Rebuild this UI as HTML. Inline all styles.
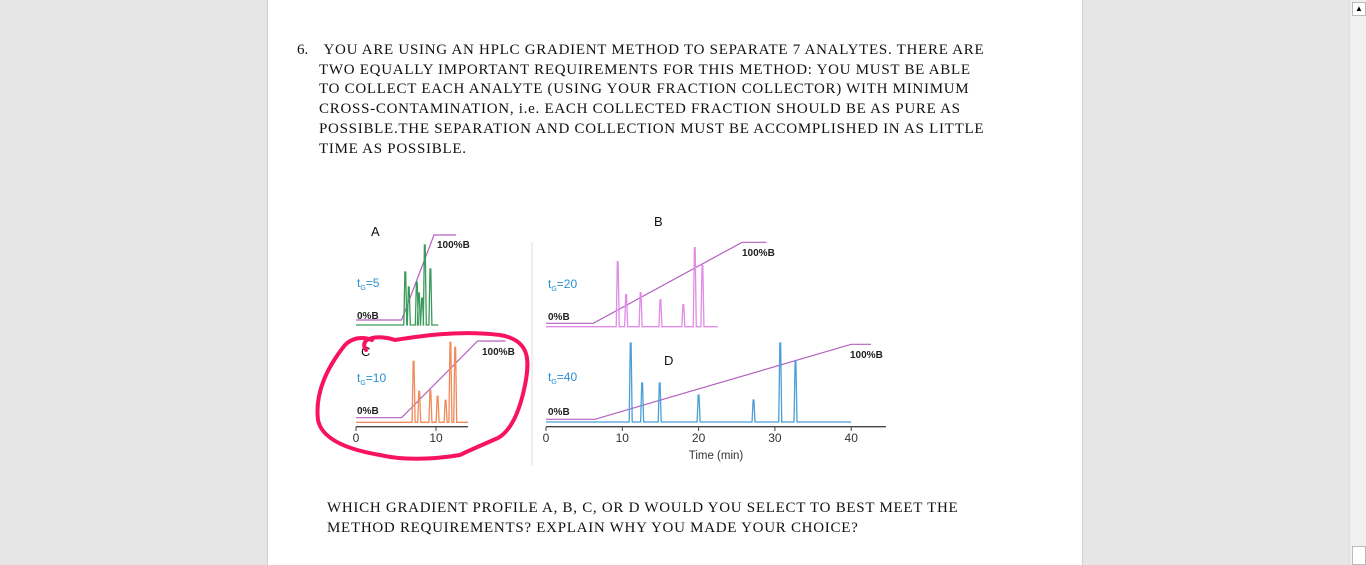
<!DOCTYPE html>
<html><head><meta charset="utf-8">
<style>
body{margin:0;width:1366px;height:565px;background:#e6e6e6;overflow:hidden;position:relative;font-family:"Liberation Serif",serif}
#page{position:absolute;left:267px;top:0;width:814px;height:565px;background:#fff;border-left:1px solid #d0d0d0;border-right:1px solid #d0d0d0}
.q{position:absolute;font-size:15px;line-height:19.7px;color:#111;letter-spacing:0.72px;white-space:nowrap}
#sb{position:absolute;left:1349px;top:0;width:17px;height:565px;background:#f0f0f0;border-left:1px solid #ddd}
svg text{font-family:"Liberation Sans",sans-serif}
</style></head><body>
<div id="page"></div>
<div class="q" style="left:297px;top:41px;letter-spacing:0">6.</div>
<div class="q" style="left:319px;top:41px">&nbsp;YOU ARE USING AN HPLC GRADIENT METHOD TO SEPARATE 7 ANALYTES. THERE ARE<br>TWO EQUALLY IMPORTANT REQUIREMENTS FOR THIS METHOD: YOU MUST BE ABLE<br>TO COLLECT EACH ANALYTE (USING YOUR FRACTION COLLECTOR) WITH MINIMUM<br>CROSS-CONTAMINATION, i.e. EACH COLLECTED FRACTION SHOULD BE AS PURE AS<br>POSSIBLE.THE SEPARATION AND COLLECTION MUST BE ACCOMPLISHED IN AS LITTLE<br>TIME AS POSSIBLE.</div>
<div class="q" style="left:327px;top:499px">WHICH GRADIENT PROFILE A, B, C, OR D WOULD YOU SELECT TO BEST MEET THE<br>METHOD REQUIREMENTS? EXPLAIN WHY YOU MADE YOUR CHOICE?</div>
<div id="sb"><div style="position:absolute;left:2px;top:2px;width:12px;height:12px;border:1px solid #bbb;background:#fff;font-size:8px;text-align:center;line-height:12px">▲</div><div style="position:absolute;left:2px;top:546px;width:12px;height:17px;border:1px solid #bbb;background:#fff"></div></div>
<svg id="chart" width="1366" height="565" style="position:absolute;left:0;top:0"></svg>
<script>
// Panel data (times in min, heights in px above baseline)
const peaksA=[6.16,6.6,7.6,7.86,8.26,8.6,9.3];
const heightsA=[53,38,43,32,27,80,56];
const gradA=[[0,0],[5.7,0],[9.75,100],[12.5,100]];
const peaksB=[9.4,10.5,12.4,15.0,18.0,19.5,20.5];
const heightsB=[65,32,34,27,22,79,61];
const gradB=[[0,0],[6.2,0],[25.7,100],[28.9,100]];
const peaksC=[7.2,7.9,9.3,10.2,11.2,11.8,12.4];
const heightsC=[61,31,32,26,22,80,75];
const gradC=[[0,0],[5.7,0],[15.2,100],[18.7,100]];
const peaksD=[11.1,12.6,14.9,20.0,27.2,30.7,32.7];
const heightsD=[79,39,39,27,22,79,61];
const gradD=[[0,0],[6.4,0],[40,100],[42.6,100]];
const leftTicks=[0,10];
const rightTicks=[0,10,20,30,40];

const svg=document.getElementById('chart');
const NS='http://www.w3.org/2000/svg';
function mk(tag,attrs,parent){const e=document.createElementNS(NS,tag);for(const k in attrs)e.setAttribute(k,attrs[k]);(parent||svg).appendChild(e);return e;}
const xL=t=>356+t*8, xR=t=>546+t*7.63;
const panels=[
 {n:'a',peaks:peaksA,h:heightsA,grad:gradA,x:xL,base:325,g0:320,g100:235,end:10.3,col:'#3a9a5c'},
 {n:'b',peaks:peaksB,h:heightsB,grad:gradB,x:xR,base:326.7,g0:323.3,g100:242.3,end:22.5,col:'#e08ce8'},
 {n:'c',peaks:peaksC,h:heightsC,grad:gradC,x:xL,base:422.3,g0:417.7,g100:341,end:14,col:'#f08a5a'},
 {n:'d',peaks:peaksD,h:heightsD,grad:gradD,x:xR,base:422,g0:419.3,g100:344.3,end:40,col:'#4a9fd8'}
];
panels.forEach(p=>{
 const g=mk('g',{});
 
 
 const gy=v=>p.g0+(p.g100-p.g0)*v/100;
 const gl=mk('polyline',{points:p.grad.map(d=>p.x(d[0])+','+gy(d[1])).join(' '),fill:'none',stroke:'#b560c0','stroke-width':1.2},g);
 
 
 let d='M'+p.x(0)+','+p.base;
 p.peaks.forEach((t,i)=>{const cx=p.x(t);d+=' L'+(cx-1.5)+','+p.base+' L'+(cx-0.4)+','+(p.base-p.h[i])+' L'+(cx+0.4)+','+(p.base-p.h[i])+' L'+(cx+1.5)+','+p.base;});
 d+=' L'+p.x(p.end)+','+p.base;
 const tr=mk('path',{d:d,fill:'none',stroke:p.col,'stroke-width':1.3},g);
 
 
});
// axes
[[356,468,leftTicks,xL,'left'],[546,886,rightTicks,xR,'right']].forEach(a=>{
 const ax=mk('line',{x1:a[0],x2:a[1],y1:426.7,y2:426.7,stroke:'#444','stroke-width':1.3});
 
 
 a[2].forEach(v=>{
  const tk=mk('line',{x1:a[3](v),x2:a[3](v),y1:426.7,y2:431,stroke:'#444'});
  
  
  const tl=mk('text',{x:a[3](v),y:442,'font-size':12,'text-anchor':'middle',fill:'#333'});
  
  
  tl.textContent=v;
 });
});
</script>
<svg width="1366" height="565" style="position:absolute;left:0;top:0">
<style>text{font-family:"Liberation Sans",sans-serif}.b{font-size:10px;font-weight:bold;fill:#222}.t{font-size:12px;fill:#2a8fd0}.L{font-size:13px;fill:#111}</style>
<line x1="532" y1="242" x2="532" y2="465" stroke="#ddd"/>
<text class="L" x="371" y="236">A</text>
<text class="L" x="654" y="226">B</text>
<text class="L" x="361" y="356">C</text>
<text class="L" x="664" y="365">D</text>
<text class="t" x="357" y="287">t<tspan font-size="7" dy="3">G</tspan><tspan dy="-3">=5</tspan></text>
<text class="t" x="548" y="288">t<tspan font-size="7" dy="3">G</tspan><tspan dy="-3">=20</tspan></text>
<text class="t" x="357" y="382">t<tspan font-size="7" dy="3">G</tspan><tspan dy="-3">=10</tspan></text>
<text class="t" x="548" y="381">t<tspan font-size="7" dy="3">G</tspan><tspan dy="-3">=40</tspan></text>
<text class="b" x="357" y="319">0%B</text><text class="b" x="548" y="320">0%B</text>
<text class="b" x="357" y="414">0%B</text><text class="b" x="548" y="415">0%B</text>
<text class="b" x="437" y="248">100%B</text><text class="b" x="742" y="256">100%B</text>
<text class="b" x="482" y="355">100%B</text><text class="b" x="850" y="358">100%B</text>
<text x="716" y="459" font-size="11.5" fill="#333" text-anchor="middle">Time (min)</text>
<path d="M366,350 C358,338 378,334 395,340 C420,336 460,330 500,335 C530,340 530,360 525,385 C520,410 512,430 498,438 C482,445 470,450 460,455 C430,460 400,460 380,455 C350,450 322,440 318,420 C315,395 325,370 345,345 C352,338 362,336 372,340" fill="none" stroke="#f7135e" stroke-width="4" stroke-linecap="round"/>
</svg>
</body></html>
